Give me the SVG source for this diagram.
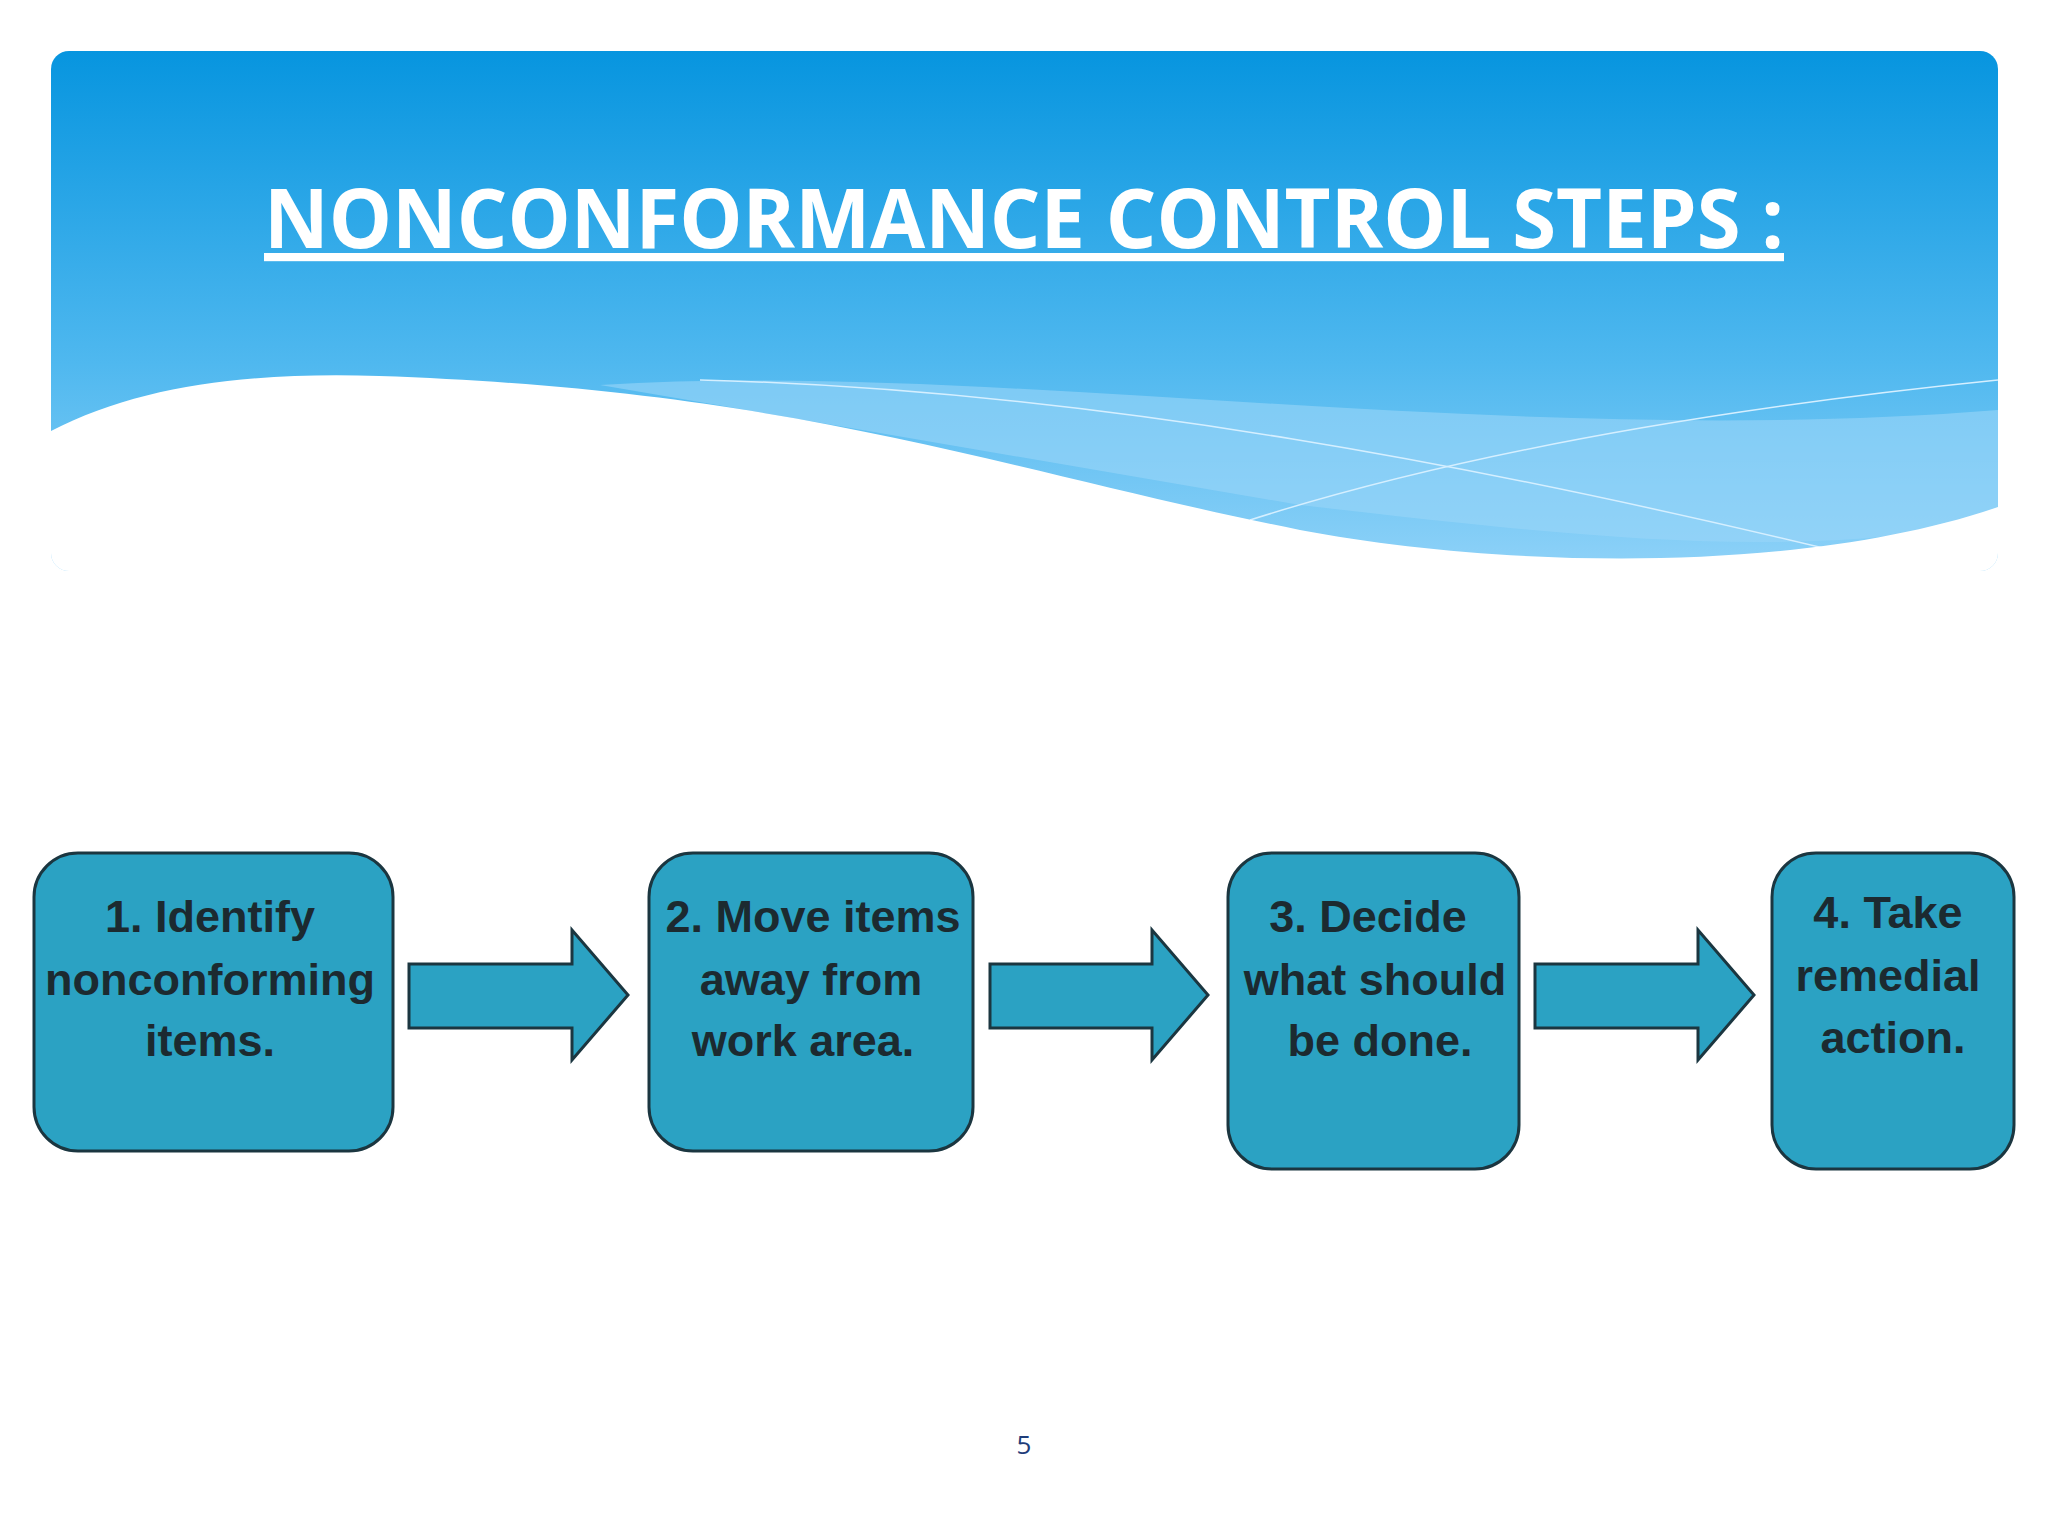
<svg xmlns="http://www.w3.org/2000/svg" width="2048" height="1536" viewBox="0 0 2048 1536">
<defs>
<linearGradient id="hg" x1="0" y1="0" x2="0" y2="1">
<stop offset="0" stop-color="#0795df"/><stop offset="0.6" stop-color="#4fb8ef"/><stop offset="1" stop-color="#8fd2f8"/>
</linearGradient>
<clipPath id="hc"><rect x="51" y="51" width="1947" height="520" rx="18"/></clipPath>
</defs>
<style>
.box{fill:#2ba2c3;stroke:#1b3640;stroke-width:3}
.arr{fill:#2ba2c3;stroke:#1b3640;stroke-width:3;stroke-linejoin:miter}
.lbl{font-family:"Liberation Sans",Arial,sans-serif;font-weight:bold;font-size:45px;fill:#1c2a30;text-anchor:middle}
</style>
<rect width="2048" height="1536" fill="#ffffff"/>
<g id="header" clip-path="url(#hc)">
<rect x="51" y="51" width="1947" height="520" fill="url(#hg)"/>
<path d="M600,385 C1000,360 1500,450 1998,410 L1998,520 C1800,560 1600,540 1300,505 Z" fill="#9ad6f9" opacity="0.6"/>
<path d="M1250,520 C1500,440 1800,400 1998,380" fill="none" stroke="#d5efff" stroke-width="1.5"/>
<path d="M700,380 C1100,390 1500,470 1840,552" fill="none" stroke="#d5efff" stroke-width="1.5"/>
<path d="M51,431 C140,385 250,372 379,376 C800,390 1000,470 1300,530 C1500,568 1800,575 1998,507 L1998,600 L51,600 Z" fill="#ffffff"/>
<text x="1024" y="248" font-family="'Open Sans','Liberation Sans',sans-serif" font-weight="bold" font-size="82" fill="#ffffff" text-anchor="middle" text-decoration="underline" textLength="1520" lengthAdjust="spacingAndGlyphs">NONCONFORMANCE CONTROL STEPS :</text>
</g>
<g id="connectors">
<path class="arr" d="M409,964 L572,964 L572,930 L628,995 L572,1060 L572,1028 L409,1028 Z"/>
<path class="arr" d="M990,964 L1152,964 L1152,930 L1208,995 L1152,1060 L1152,1028 L990,1028 Z"/>
<path class="arr" d="M1535,964 L1698,964 L1698,930 L1754,995 L1698,1060 L1698,1028 L1535,1028 Z"/>
</g>
<g id="n1"><rect class="box" x="34" y="853" width="359" height="298" rx="44"/>
<text class="lbl" x="210" y="932">1. Identify</text><text class="lbl" x="210" y="995">nonconforming</text><text class="lbl" x="210" y="1056">items.</text></g>
<g id="n2"><rect class="box" x="649" y="853" width="324" height="298" rx="44"/>
<text class="lbl" x="813" y="932">2. Move items</text><text class="lbl" x="811" y="995">away from</text><text class="lbl" x="803" y="1056">work area.</text></g>
<g id="n3"><rect class="box" x="1228" y="853" width="291" height="316" rx="44"/>
<text class="lbl" x="1368" y="932">3. Decide</text><text class="lbl" x="1375" y="995">what should</text><text class="lbl" x="1380" y="1056">be done.</text></g>
<g id="n4"><rect class="box" x="1772" y="853" width="242" height="316" rx="44"/>
<text class="lbl" x="1888" y="928">4. Take</text><text class="lbl" x="1888" y="991">remedial</text><text class="lbl" x="1893" y="1053">action.</text></g>
<text x="1024" y="1454" font-family="'Open Sans','Liberation Sans',sans-serif" font-size="26" fill="#1f3d7a" text-anchor="middle">5</text>
</svg>
